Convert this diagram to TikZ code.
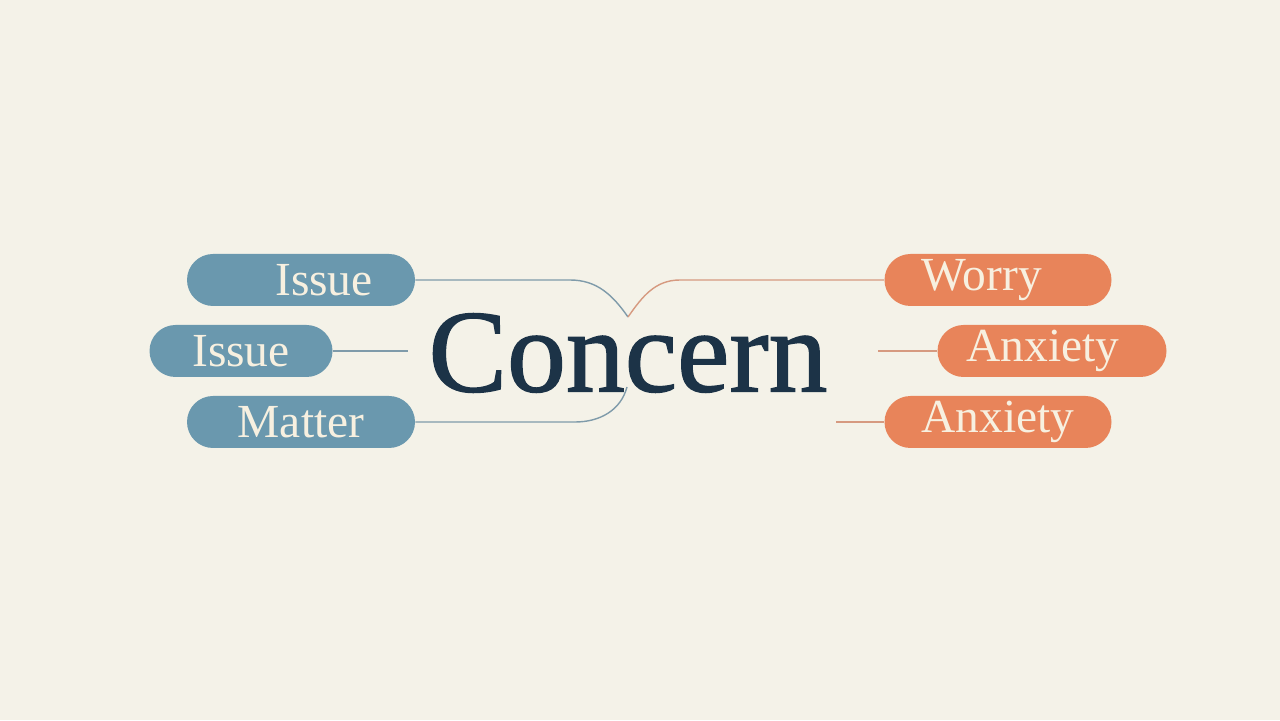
\documentclass[tikz,border=0pt]{standalone}
\usepackage{fontspec}
\setmainfont{Liberation Serif}
\newfontfamily\heavyserif[FakeBold=1.2]{Liberation Serif}
\usetikzlibrary{positioning}

\definecolor{paper}{HTML}{F4F2E8}
\definecolor{steel}{HTML}{6A98AE}
\definecolor{coral}{HTML}{E8845A}
\definecolor{navy}{HTML}{1C3347}
\definecolor{cream}{HTML}{F7F0E0}
\definecolor{steelline}{HTML}{7F9BAA}
\definecolor{coralline}{HTML}{D69A80}

\begin{document}
\begin{tikzpicture}[
            pill/.style={rounded corners=0.52cm, minimum height=1.04cm, inner sep=0pt,
                text=cream, font=\fontsize{27}{30}\selectfont},
            left pill/.style={pill, fill=steel},
            right pill/.style={pill, fill=coral},
            left link/.style={steelline, line width=0.8pt},
            right link/.style={coralline, line width=0.8pt}]

            % Background
            \fill[paper] (0,0) rectangle (25.6,14.4);

            % Central word
            \node[text=navy, font=\heavyserif\fontsize{67}{80}\selectfont] (concern) at (12.56,7.34) {Concern};

            % Left branch
            \node[left pill, minimum width=4.56cm] (issueA) at (6.02,8.8) {\hspace*{0.92cm}Issue};
            \node[left pill, minimum width=3.66cm] (issueB) at (4.82,7.38) {Issue};
            \node[left pill, minimum width=4.56cm] (matter) at (6.02,5.96) {Matter};

            % Right branch
            \node[right pill, minimum width=4.54cm] (worry) at (19.96,8.8) {Worry\hspace*{0.64cm}};
            \node[right pill, minimum width=4.58cm] (anxietyA) at (21.04,7.38) {Anxiety\hspace*{0.36cm}};
            \node[right pill, minimum width=4.54cm] (anxietyB) at (19.96,5.96) {Anxiety};

            % Loose ends of the connectors
            \coordinate (cusp) at (12.56,8.06);
            \coordinate (lowtip) at (12.54,6.66);
            \coordinate (midL) at (8.16,7.38);
            \coordinate (midR) at (17.56,7.38);
            \coordinate (lowR) at (16.72,5.96);

            % Connectors
            \draw[left link] (issueA.east) -- (11.4,8.8) to[out=0,in=125] (cusp);
            \draw[right link] (cusp) to[out=55,in=180] (13.6,8.8) -- (worry.west);
            \draw[left link] (issueB.east) -- (midL);
            \draw[left link] (matter.east) -- (11.5,5.96) to[out=0,in=-105] (lowtip);
            \draw[right link] (midR) -- (anxietyA.west);
            \draw[right link] (lowR) -- (anxietyB.west);
        \end{tikzpicture}
\end{document}
